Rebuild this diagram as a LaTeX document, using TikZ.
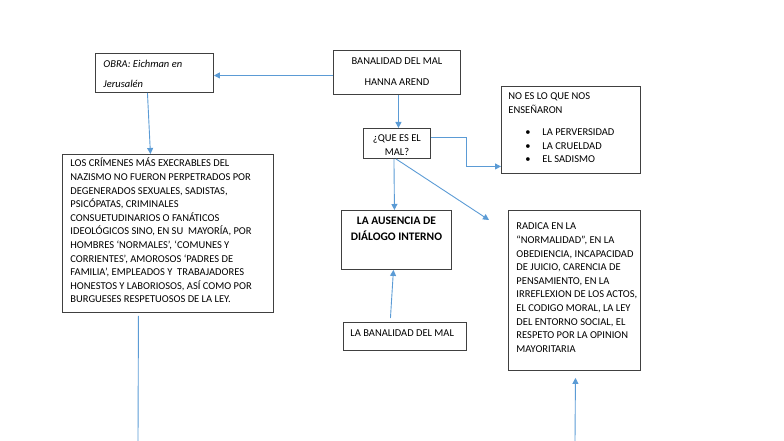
\documentclass[tikz,border=0pt]{standalone}
\usepackage{fontspec}
\setmainfont{Carlito}
\usetikzlibrary{arrows.meta,positioning}
\definecolor{boxLine}{RGB}{64,64,64}
\definecolor{arrowBlue}{RGB}{91,155,213}
\newcommand{\leftlines}[3]{\parbox[c][#2][t]{#1}{\begin{tabular}[t]{@{}l@{}}#3\end{tabular}}}
\newcommand{\midlines}[3]{\parbox[c][#2][t]{#1}{\centering\begin{tabular}[t]{@{}c@{}}#3\end{tabular}}}
\newcommand{\bulletline}[1]{\hspace*{17pt}\makebox[17pt][l]{\textbullet}#1}
\tikzset{
  txtbox/.style={draw=boxLine, line width=0.9pt, fill=white, anchor=north west, inner xsep=8pt, font=\fontsize{10.5}{13.6}\selectfont},
  flow/.style={-{Triangle[length=6pt,width=6pt]}, draw=arrowBlue, line width=0.9pt},
  plainflow/.style={draw=arrowBlue, line width=0.9pt}
}

\begin{document}
\begin{tikzpicture}[x=1pt, y=-1pt]
  \useasboundingbox (0,0) rectangle (784,441);
  % boxes
  \node[txtbox, inner ysep=4.9pt, font=\itshape\fontsize{10.5}{13.6}\selectfont] (obra) at (95,53) {\leftlines{102pt}{29.2pt}{OBRA: Eichman en\\[6.4pt] Jerusalén}};
  \node[txtbox, inner ysep=4.9pt] (banal) at (333,50) {\midlines{111pt}{34.2pt}{BANALIDAD DEL MAL\\[7.4pt] HANNA AREND}};
  \node[txtbox, inner xsep=7pt, inner ysep=3.9pt] (noes) at (501,86) {\leftlines{125pt}{79.2pt}{NO ES LO QUE NOS\\ ENSEÑARON\\[8.4pt] \bulletline{LA PERVERSIDAD}\\ \bulletline{LA CRUELDAD}\\ \bulletline{EL SADISMO}}};
  \node[txtbox, inner xsep=6pt, inner ysep=3.9pt] (que) at (363,128) {\midlines{55pt}{22.2pt}{¿QUE ES EL\\ MAL?}};
  \node[txtbox, inner ysep=2.5pt, font=\bfseries\fontsize{11.5}{16}\selectfont] (aus) at (341,210) {\midlines{94pt}{54pt}{LA AUSENCIA DE\\ DIÁLOGO INTERNO}};
  \node[txtbox, inner xsep=7pt, inner ysep=4.9pt] (lab) at (343,322) {\leftlines{109pt}{18.2pt}{LA BANALIDAD DEL MAL}};
  \node[txtbox, inner ysep=9.9pt] (radica) at (508,210) {\leftlines{116pt}{140.2pt}{RADICA EN LA\\ “NORMALIDAD”, EN LA\\ OBEDIENCIA, INCAPACIDAD\\ DE JUICIO, CARENCIA DE\\ PENSAMIENTO, EN LA\\ IRREFLEXION DE LOS ACTOS,\\ EL CODIGO MORAL, LA LEY\\ DEL ENTORNO SOCIAL, EL\\ RESPETO POR LA OPINION\\ MAYORITARIA}};
  \node[txtbox, inner ysep=2.9pt] (crimen) at (62,154) {\leftlines{195pt}{152.2pt}{LOS CRÍMENES MÁS EXECRABLES DEL\\ NAZISMO NO FUERON PERPETRADOS POR\\ DEGENERADOS SEXUALES, SADISTAS,\\ PSICÓPATAS, CRIMINALES\\ CONSUETUDINARIOS O FANÁTICOS\\ IDEOLÓGICOS SINO, EN SU\ \ MAYORÍA, POR\\ HOMBRES ‘NORMALES’, ‘COMUNES Y\\ CORRIENTES’, AMOROSOS ‘PADRES DE\\ FAMILIA’, EMPLEADOS Y\ \ TRABAJADORES\\ HONESTOS Y LABORIOSOS, ASÍ COMO POR\\ BURGUESES RESPETUOSOS DE LA LEY.}};
  \coordinate (crimenend) at (138,441);
  \coordinate (radicaend) at (575,441);
  % connectors
  \draw[flow] ([yshift=-3pt]banal.west) -- ([yshift=-2.5pt]obra.east);
  \draw[flow] ([xshift=-7pt]obra.south) -- ([xshift=-17.5pt]crimen.north);
  \draw[plainflow] ([xshift=-29.5pt,yshift=-3pt]crimen.south) -- (crimenend);
  \draw[flow] ([xshift=1.5pt]banal.south) -- ([xshift=1.5pt]que.north);
  \draw[flow] ([yshift=6pt]que.east) -- ++(36,0) |- ([yshift=-36.5pt]noes.west);
  \draw[flow] ([xshift=-3pt]que.south) -- ([xshift=-2pt]aus.north);
  \draw[flow] ([xshift=-1pt]que.south) -- ([xshift=-19pt,yshift=-10pt]radica.north west);
  \draw[flow] ([xshift=-14.5pt,yshift=4pt]lab.north) -- ([xshift=-3pt]aus.south);
  \draw[flow] (radicaend) -- ([xshift=1pt,yshift=-7pt]radica.south);
\end{tikzpicture}
\end{document}
